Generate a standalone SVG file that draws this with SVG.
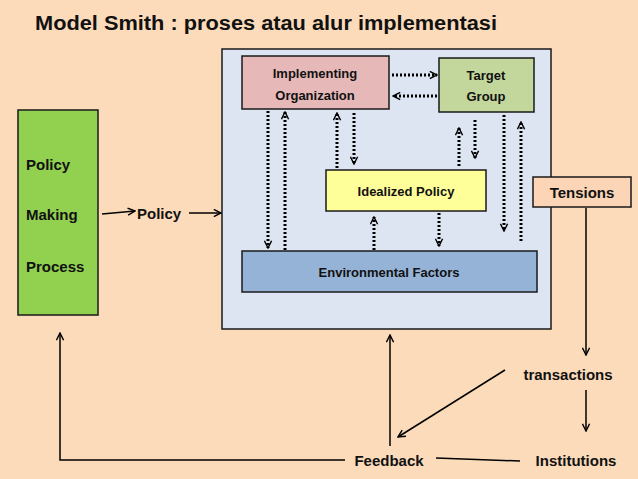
<svg xmlns="http://www.w3.org/2000/svg" width="638" height="479" viewBox="0 0 638 479">
<defs>
<marker id="ah" viewBox="0 0 10 10" refX="9" refY="5" markerWidth="9" markerHeight="9" markerUnits="userSpaceOnUse" orient="auto"><path d="M1,1 L9,5 L1,9" fill="none" stroke="#000" stroke-width="1.6"/></marker>
</defs>
<style>
text{font-family:"Liberation Sans",Arial,sans-serif;font-weight:bold;fill:#111}
.b{stroke:#1a1a1a;stroke-width:1.5}
.d{stroke:#000;stroke-width:3;stroke-dasharray:2 2;fill:none;marker-end:url(#ah)}
.s{stroke:#000;stroke-width:1.5;fill:none;marker-end:url(#ah)}
.l{stroke:#000;stroke-width:1.5;fill:none}
</style>
<rect width="638" height="479" fill="#FBDBBA"/>
<text x="35" y="30" font-size="20" textLength="462" lengthAdjust="spacingAndGlyphs">Model Smith : proses atau alur implementasi</text>
<g id="system"><rect class="b" x="222" y="49" width="329" height="280" fill="#DCE5F1"/></g>
<g id="impl"><rect class="b" x="242" y="56" width="147" height="53" fill="#E6B8B8"/>
<text x="315" y="78" font-size="13" text-anchor="middle">Implementing</text><text x="315" y="100" font-size="13" text-anchor="middle">Organization</text></g>
<g id="target"><rect class="b" x="439" y="58" width="95" height="54" fill="#C3D69B"/>
<text x="486" y="80" font-size="13" text-anchor="middle">Target</text><text x="486" y="101" font-size="13" text-anchor="middle">Group</text></g>
<g id="ideal"><rect class="b" x="326" y="170" width="160" height="41" fill="#FFFF99"/>
<text x="406" y="196" font-size="13" text-anchor="middle">Idealized  Policy</text></g>
<g id="env"><rect class="b" x="242" y="251" width="295" height="41" fill="#95B3D7"/>
<text x="389" y="277" font-size="13" text-anchor="middle">Environmental  Factors</text></g>
<g id="pmp"><rect class="b" x="18" y="110" width="80" height="205" fill="#92D050"/>
<text x="26" y="170" font-size="15">Policy</text><text x="26" y="220" font-size="15">Making</text><text x="26" y="272" font-size="15">Process</text></g>
<g id="policy"><text x="137" y="219" font-size="15">Policy</text></g>
<g id="tensions"><rect class="b" x="533" y="177" width="98" height="30" fill="#FBD5B5"/>
<text x="582" y="198" font-size="15" text-anchor="middle">Tensions</text></g>
<g id="transactions"><text x="568" y="380" font-size="15" text-anchor="middle">transactions</text></g>
<g id="institutions"><text x="576" y="466" font-size="15" text-anchor="middle">Institutions</text></g>
<g id="feedback"><text x="389" y="466" font-size="15" text-anchor="middle">Feedback</text></g>
<g id="connectors">
<path class="d" d="M268,111 V248"/>
<path class="d" d="M285,250 V112"/>
<path class="d" d="M337,168 V113"/>
<path class="d" d="M354,113 V164"/>
<path class="d" d="M459,166 V128"/>
<path class="d" d="M475,120 V158"/>
<path class="d" d="M504,115 V231"/>
<path class="d" d="M521,241 V122"/>
<path class="d" d="M374,250 V217"/>
<path class="d" d="M439,213 V246"/>
<path class="d" d="M392,75 H437"/>
<path class="d" d="M437,96 H393"/>
<path class="s" d="M102,214 L135,211"/>
<path class="s" d="M189,213 H221"/>
<path class="s" d="M586,208 V355"/>
<path class="s" d="M586,390 V431"/>
<path class="s" d="M505,370 L398,437"/>
<path class="s" d="M390,446 V335"/>
<path class="s" d="M345,460 H60 V333"/>
<path class="l" d="M436,458 L520,461"/>
</g>
</svg>
